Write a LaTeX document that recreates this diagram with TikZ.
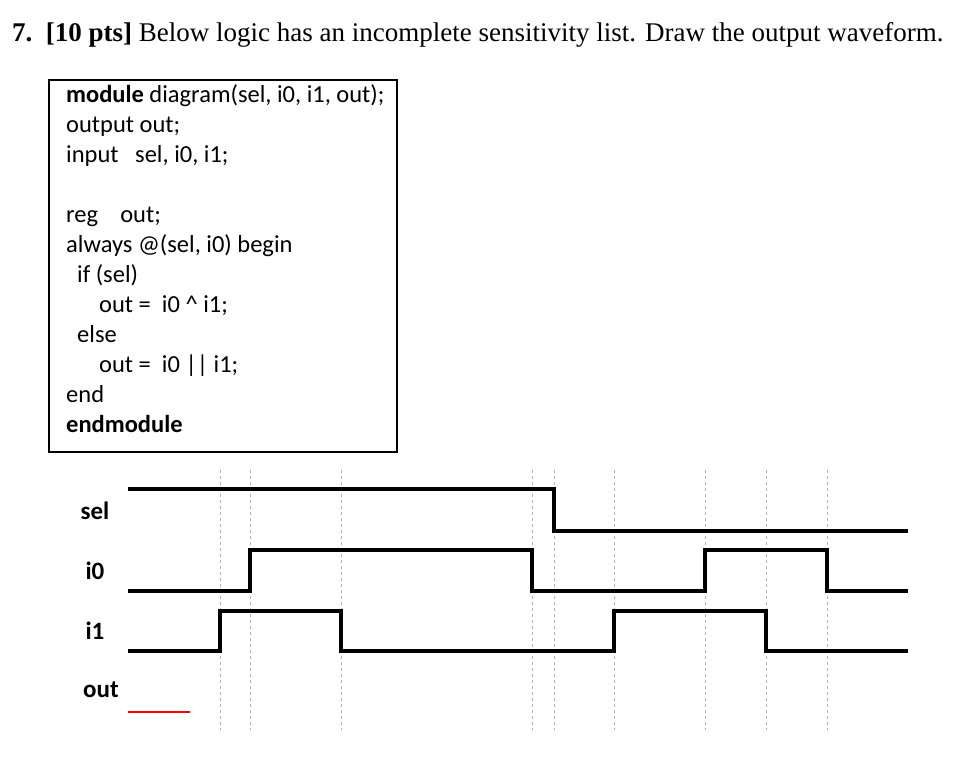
\documentclass[tikz,border=0pt]{standalone}
\usepackage{fontspec}
\setmainfont{Liberation Serif}
\newfontfamily\codefont{Carlito}
\begin{document}
\begin{tikzpicture}[x=1pt,y=-1pt,
  code/.style={anchor=base west,inner sep=0pt,font=\codefont\fontsize{24.5}{27}\selectfont},
  lab/.style={anchor=center,inner sep=0pt,font=\codefont\bfseries\fontsize{25}{27}\selectfont},
  wave/.style={line width=3.2pt,black},
  grid/.style={dashed,gray!60,line width=0.6pt}]
\useasboundingbox (0,0) rectangle (961,764);
\node[anchor=base west,inner sep=0pt,font=\fontsize{27}{30}\selectfont] (title) at (12,41)
 {\textbf{7.\ \ [10 pts]} Below logic has an incomplete sensitivity list. Draw the output waveform.};
\draw[line width=1.4pt] (49,80) rectangle (397,452);
\node[code] (l1) at (66,102) {\textbf{module} diagram(sel, i0, i1, out);};
\node[code] (l2) at (66,132) {output out;};
\node[code] (l3) at (66,162) {input\ \ \ sel, i0, i1;};
\node[code] (l4) at (66,222) {reg\ \ \ \ out;};
\node[code] (l5) at (66,252) {always @(sel, i0) begin};
\node[code] (l6) at (77,282) {if (sel)};
\node[code] (l7) at (99,312) {out =\ \ i0 \^{} i1;};
\node[code] (l8) at (77,342) {else};
\node[code] (l9) at (99,372) {out =\ \ i0 || i1;};
\node[code] (l10) at (66,402) {end};
\node[code] (l11) at (66,432) {\textbf{endmodule}};
\foreach \x in {220,250,341,532,554,614,705,766,827}
  \draw[grid] (\x,470) -- (\x,730);
\node[lab] (sel) at (95,511) {sel};
\node[lab] (i0) at (95,571) {i0};
\node[lab] (i1) at (95,631) {i1};
\node[lab] (out) at (101,690) {out};
\draw[wave] (128,489) -- (554,489) -- (554,531) -- (908,531);
\draw[wave] (128,591) -- (250,591) -- (250,550) -- (532,550) -- (532,591) -- (705,591) -- (705,550) -- (827,550) -- (827,591) -- (908,591);
\draw[wave] (128,651) -- (220,651) -- (220,611) -- (341,611) -- (341,651) -- (614,651) -- (614,611) -- (766,611) -- (766,651) -- (908,651);
\draw[red,line width=2.6pt] (128,712) -- (190,712);
\end{tikzpicture}
\end{document}
